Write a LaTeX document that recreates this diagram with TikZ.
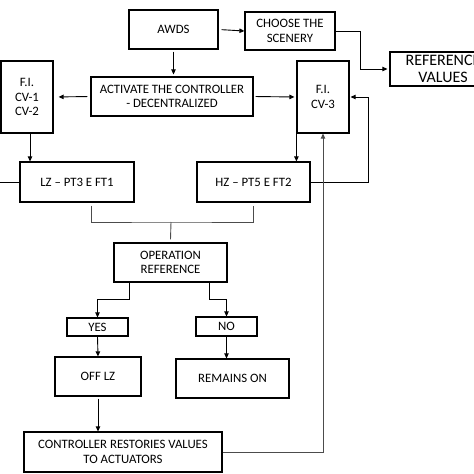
\documentclass[tikz,border=0pt]{standalone}
\usepackage{fontspec}
\setmainfont{Carlito}
\usetikzlibrary{arrows.meta,calc}

\begin{document}
\begin{tikzpicture}[x=1pt, y=-1pt, >={Triangle[length=5pt,width=4.5pt]},
      font=\fontsize{12.8}{14.5}\selectfont, line width=0.9pt,
      box/.style={draw, line width=1.2pt, align=center, inner sep=1pt},
      conn/.style={line width=0.9pt}]
  \useasboundingbox (0,0) rectangle (474,474);
  % top row
  \node[box, minimum width=89pt, minimum height=39pt] (awds) at (173.5,29.5) {AWDS};
  \node[box, minimum width=90pt, minimum height=38pt] (scen) at (290,31) {CHOOSE THE\\SCENERY};
  \node[box, minimum width=106pt, minimum height=34pt, font=\fontsize{16}{16.5}\selectfont] (refv) at (443,69) {REFERENCE\\VALUES};
  % controller and feedback blocks
  \node[box, minimum width=52pt, minimum height=72pt] (fione) at (27,97) {F.I.\\CV-1\\CV-2};
  \node[box, minimum width=162pt, minimum height=39pt] (act) at (172,96.5) {ACTIVATE THE CONTROLLER\\- DECENTRALIZED};
  \node[box, minimum width=52pt, minimum height=72pt] (fithree) at (323,97) {F.I.\\CV-3};
  \node[box, minimum width=114pt, minimum height=40pt] (lz) at (77,182) {LZ -- PT3 E FT1};
  \node[box, minimum width=113pt, minimum height=40pt] (hz) at (253.5,182) {HZ -- PT5 E FT2};
  % decision
  \node[box, minimum width=113pt, minimum height=39pt] (opr) at (170.5,262.5) {OPERATION\\REFERENCE};
  \node[box, minimum width=61pt, minimum height=18pt] (yes) at (97.5,327) {YES};
  \node[box, minimum width=61pt, minimum height=19pt] (no) at (226.5,326.5) {NO};
  \node[box, minimum width=86pt, minimum height=39pt] (off) at (98,376.5) {OFF LZ};
  \node[box, minimum width=113pt, minimum height=39pt] (rem) at (232.5,378.5) {REMAINS ON};
  \node[box, minimum width=198pt, minimum height=40pt] (ctrl) at (123,452) {CONTROLLER RESTORIES VALUES\\TO ACTUATORS};
  \coordinate (lzout) at (0,182);
  \coordinate (mrg) at (171,222);

  \draw[conn, ->, shorten <=2pt, shorten >=2pt] (awds.south) -- (awds.south |- act.north);
  \draw[conn, ->, shorten <=3pt] (awds.east) -- (scen.west);
  \draw[conn, ->, shorten >=2pt] (scen.east) -- ++(25,0) |- (refv.west);
  \draw[conn, ->, shorten <=3pt, shorten >=5pt] (act.west) -- (fione.east);
  \draw[conn, ->, shorten <=2pt, shorten >=2pt] (act.east) -- (fithree.west);
  \draw[conn, ->] ([xshift=3pt]fione.south) -- ([xshift=3pt]fione.south |- lz.north);
  \draw[conn, ->] (fithree.south west) -- (fithree.south west |- hz.north);
  \draw[conn, ->, shorten >=1pt] (hz.east) -- ++(58,0) |- (fithree.east);
  \draw[conn] (lz.west) -- (lzout);
  % merge into operation reference
  \draw[conn, black!70] ([xshift=14pt,yshift=-3pt]lz.south) |- (mrg) -| ([yshift=-3pt]hz.south);
  \draw[conn, black!70] (mrg) -- ([yshift=3pt]opr.north);
  \draw[conn, ->] ([xshift=-41pt]opr.south) -- ++(0,17) -| (yes.north);
  \draw[conn, ->] ([xshift=39pt]opr.south) -- ++(0,17) -| (no.north);
  \draw[conn, ->] (yes.south) -- (off.north);
  \draw[conn, ->] (no.south) -- (no.south |- rem.north);
  \draw[conn, ->, shorten <=2pt] (off.south) -- (off.south |- ctrl.north);
  \draw[conn, black!70, ->] (ctrl.east) -| (fithree.south);
\end{tikzpicture}
\end{document}
